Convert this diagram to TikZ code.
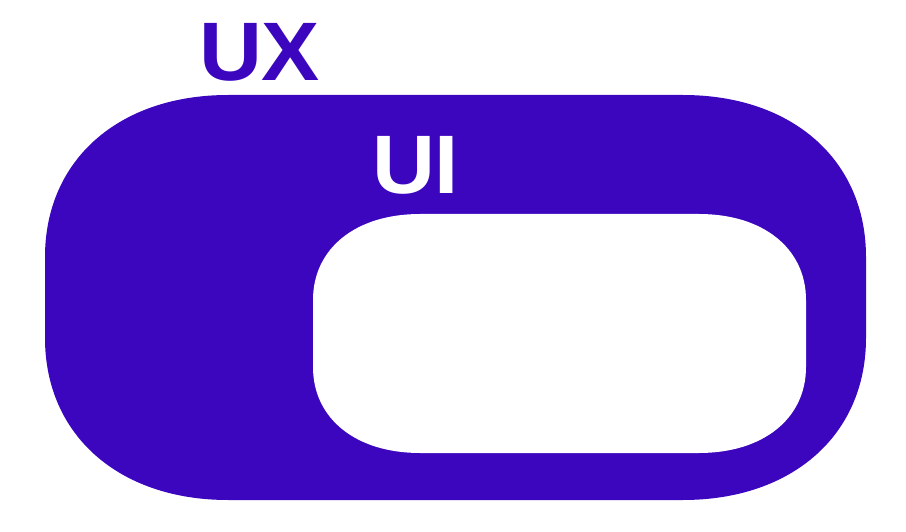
\documentclass[tikz,border=0pt]{standalone}
\usepackage{fontspec}
\setmainfont{Liberation Sans}
\definecolor{uxpurple}{RGB}{59,6,190}
\begin{document}
\begin{tikzpicture}[x=1pt,y=-1pt,
  lbl/.style={inner sep=0pt,anchor=base west,font=\fontsize{83}{83}\selectfont\bfseries}]
\useasboundingbox (0,0) rectangle (906,532);
% outer shape
\fill[uxpurple] (228,95) -- (683,95)
  .. controls (792,95) and (866,159.8) .. (866,257) -- (866,338)
  .. controls (866,435.2) and (792,500) .. (683,500) -- (228,500)
  .. controls (119,500) and (45,435.2) .. (45,338) -- (45,257)
  .. controls (45,159.8) and (119,95) .. (228,95) -- cycle;
% inner shape
\fill[white] (420,214) -- (699,214)
  .. controls (763.2,214) and (806,248.4) .. (806,300) -- (806,367)
  .. controls (806,418.6) and (763.2,453) .. (699,453) -- (420,453)
  .. controls (355.8,453) and (313,418.6) .. (313,367) -- (313,300)
  .. controls (313,248.4) and (355.8,214) .. (420,214) -- cycle;
\node[lbl,text=uxpurple] (ux) at (198.8,81) {\scalebox{1.05}[1]{UX}};
\node[lbl,text=white] (ui) at (371.8,193.5) {\scalebox{1.05}[1]{UI}};
\end{tikzpicture}
\end{document}
